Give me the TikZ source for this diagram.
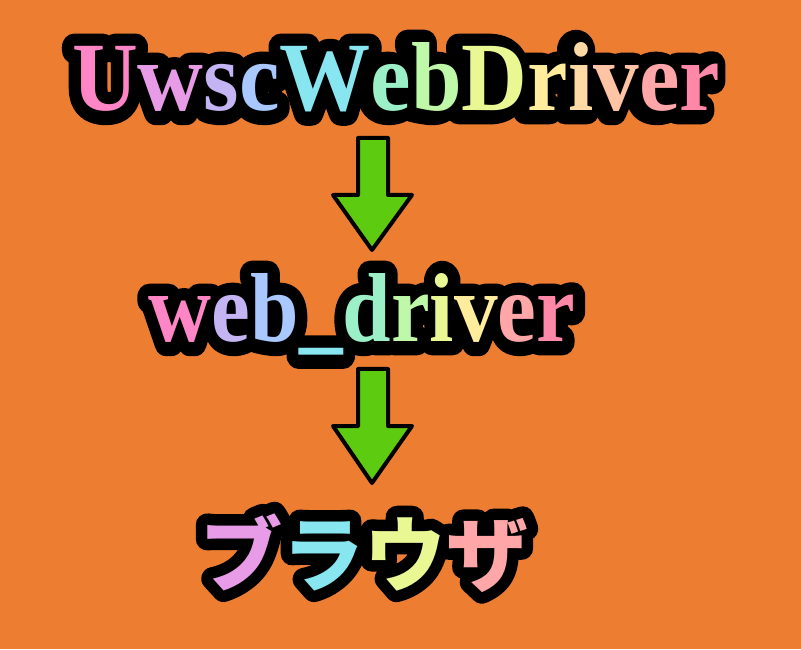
\documentclass[tikz,border=0pt]{standalone}
\usepackage{fontspec}
\setmainfont{Liberation Serif}
\newfontfamily\olfont{Liberation Serif}[BoldFeatures={FakeBold=27}]
\newfontfamily\jpfont{Noto Sans CJK JP}
\newfontfamily\jpol{Noto Sans CJK JP}[UprightFeatures={FakeBold=28},BoldFeatures={FakeBold=28}]
\definecolor{bg}{RGB}{237,125,49}
\definecolor{arrowgreen}{RGB}{93,204,16}
\definecolor{ca}{HTML}{FF86C6}
\definecolor{cb}{HTML}{E89CE8}
\definecolor{cc}{HTML}{C4B4F4}
\definecolor{cd}{HTML}{A8C8FF}
\definecolor{ce}{HTML}{88E6F0}
\definecolor{cf}{HTML}{9CF0C8}
\definecolor{cg}{HTML}{BEF8A8}
\definecolor{ch}{HTML}{EAF894}
\definecolor{ci}{HTML}{FFEC9C}
\definecolor{cj}{HTML}{FFDAA4}
\definecolor{ck}{HTML}{FFC4A4}
\definecolor{cl}{HTML}{FFA6A8}
\definecolor{cm}{HTML}{FF88A8}
\newcommand{\outlinedtext}[2]{\makebox[0pt][l]{\color{black}#1}#2}
\tikzset{
  bigtext/.style={inner sep=0pt, line join=round, font=\fontsize{98}{98}\selectfont\bfseries, transform shape},
  blockarrow/.style={fill=arrowgreen, draw=black, line width=4pt, line join=round}
}
\begin{document}
\begin{tikzpicture}[x=1pt,y=1pt]
\fill[bg] (0,0) rectangle (801,649);
\useasboundingbox (0,0) rectangle (801,649);
\node[bigtext, xscale=0.93, anchor=base] (t1) at (396,538) {\outlinedtext{\olfont\bfseries UwscWebDriver}{\textcolor{ca}{U}\textcolor{cb}{w}\textcolor{cc}{s}\textcolor{cd}{c}\textcolor{ce}{W}\textcolor{cf}{e}\textcolor{cg}{b}\textcolor{ch}{D}\textcolor{ci}{r}\textcolor{cj}{i}\textcolor{ck}{v}\textcolor{cl}{e}\textcolor{cm}{r}}};
\node[bigtext, xscale=0.89, anchor=base] (t2) at (362,307) {\outlinedtext{\olfont\bfseries web\_driver}{\textcolor{ca}{w}\textcolor{cc}{e}\textcolor{cd}{b}\textcolor{ce}{\_}\textcolor{cf}{d}\textcolor{cg}{r}\textcolor{ch}{i}\textcolor{ci}{v}\textcolor{cl}{e}\textcolor{cm}{r}}};
\node[inner sep=0pt, line join=round, anchor=base, font=\fontsize{82}{82}\jpfont\bfseries] (t3) at (364,64) {\outlinedtext{\jpol\bfseries ブラウザ}{\textcolor{cb}{ブ}\textcolor{ce}{ラ}\textcolor{ch}{ウ}\textcolor{cl}{ザ}}};
% arrows
\draw[blockarrow] (358,511) -- (388,511) -- (388,454) -- (412,454) -- (372,399) -- (333,454) -- (358,454) -- cycle;
\draw[blockarrow] (358,280) -- (388,280) -- (388,223) -- (412,223) -- (372,166) -- (333,223) -- (358,223) -- cycle;
\end{tikzpicture}
\end{document}
